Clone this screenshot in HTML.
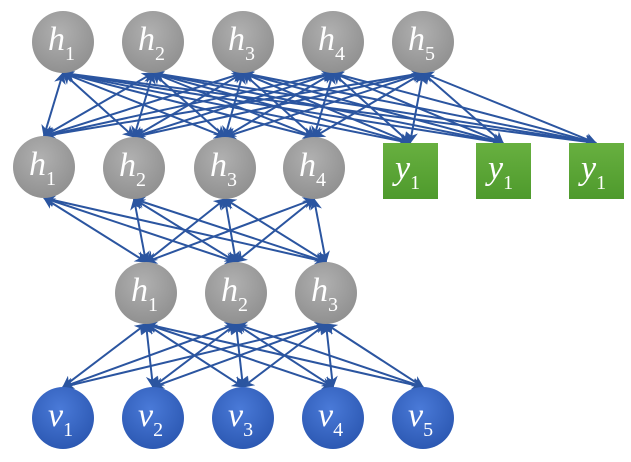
<!DOCTYPE html>
<html><head><meta charset="utf-8"><style>
html,body{margin:0;padding:0;background:#fff;width:631px;height:462px;overflow:hidden}
svg{display:block}
text{font-family:"Liberation Serif",serif;font-style:italic;fill:#fff}
</style></head><body>
<svg id="s" width="631" height="462" xmlns="http://www.w3.org/2000/svg">
<defs>
<radialGradient id="gg" cx="45%" cy="35%" r="70%"><stop offset="0" stop-color="#b0b0b0"/><stop offset="1" stop-color="#8e8e8e"/></radialGradient>
<radialGradient id="bg" cx="45%" cy="35%" r="70%"><stop offset="0" stop-color="#4a7ad8"/><stop offset="1" stop-color="#2a56b0"/></radialGradient>
<linearGradient id="grn" x1="0" y1="0" x2="0" y2="1"><stop offset="0" stop-color="#68b040"/><stop offset="1" stop-color="#4e9a2c"/></linearGradient>
<marker id="a" viewBox="0 0 10 10" refX="9" refY="5" markerWidth="6" markerHeight="6" orient="auto-start-reverse"><path d="M0,0L10,5L0,10L3,5z" fill="#2b55a0"/></marker>
</defs>
<g id="edges" stroke="#2b55a0" stroke-width="2" fill="none"></g>
<g id="nodes"></g>
</svg>
<script>
var NS="http://www.w3.org/2000/svg";
var top5=[[63,42],[153,42],[243,42],[333,42],[423,42]];
var r2=[[44,167],[134,168],[225,168],[314,168]];
var ys=[[410,171],[503,171],[596,171]];
var r3=[[146,293],[236,293],[326,293]];
var vs=[[63,418],[153,418],[243,418],[333,418],[423,418]];
var E=document.getElementById('edges');
function line(x1,y1,x2,y2){var l=document.createElementNS(NS,'line');l.setAttribute('x1',x1);l.setAttribute('y1',y1);l.setAttribute('x2',x2);l.setAttribute('y2',y2);l.setAttribute('marker-start','url(#a)');l.setAttribute('marker-end','url(#a)');E.appendChild(l);}
top5.forEach(function(a){r2.forEach(function(b){line(a[0],a[1]+31,b[0],b[1]-31);});ys.forEach(function(b){line(a[0],a[1]+31,b[0],b[1]-28);});});
r2.forEach(function(a){r3.forEach(function(b){line(a[0],a[1]+31,b[0],b[1]-31);});});
r3.forEach(function(a){vs.forEach(function(b){line(a[0],a[1]+31,b[0],b[1]-31);});});
var N=document.getElementById('nodes');
function lab(x,y,l,sub){var t=document.createElementNS(NS,'text');t.setAttribute('x',x-15);t.setAttribute('y',y+8);t.setAttribute('font-size','34');t.textContent=l;var s=document.createElementNS(NS,'tspan');s.setAttribute('font-size','20');s.setAttribute('font-style','normal');s.setAttribute('dy','10');s.textContent=sub;t.appendChild(s);N.appendChild(t);}
function circ(c,f,l,sub){var e=document.createElementNS(NS,'circle');e.setAttribute('cx',c[0]);e.setAttribute('cy',c[1]);e.setAttribute('r',31);e.setAttribute('fill',f);N.appendChild(e);lab(c[0],c[1],l,sub);}
top5.forEach(function(c,i){circ(c,'url(#gg)','h',i+1);});
r2.forEach(function(c,i){circ(c,'url(#gg)','h',i+1);});
r3.forEach(function(c,i){circ(c,'url(#gg)','h',i+1);});
vs.forEach(function(c,i){circ(c,'url(#bg)','v',i+1);});
ys.forEach(function(c){var e=document.createElementNS(NS,'rect');e.setAttribute('x',c[0]-27);e.setAttribute('y',c[1]-28);e.setAttribute('width',55);e.setAttribute('height',56);e.setAttribute('fill','url(#grn)');N.appendChild(e);lab(c[0],c[1],'y',1);});
</script>
</body></html>
